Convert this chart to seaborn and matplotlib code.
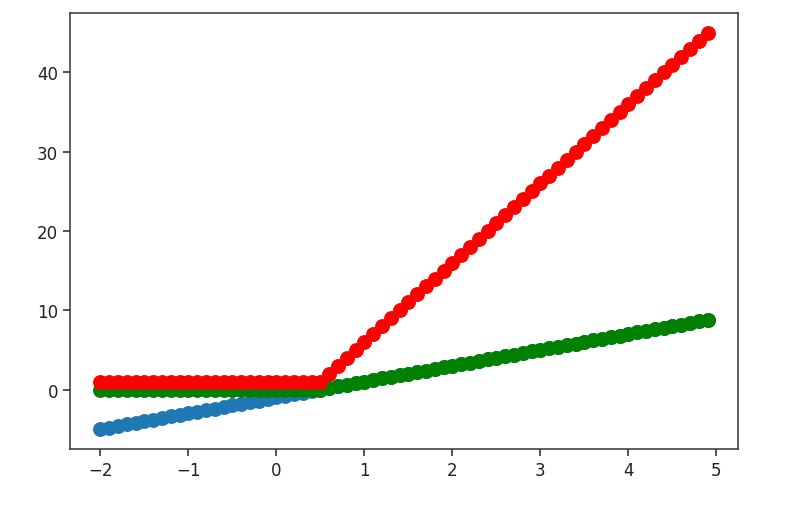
import matplotlib
matplotlib.use("Agg")
import matplotlib.pyplot as plt
import seaborn as sns

# values
x = [-2.0, -1.9, -1.8, -1.7, -1.6, -1.5, -1.4, -1.3, -1.2, -1.1,
     -1.0, -0.9, -0.8, -0.7, -0.6, -0.5, -0.4, -0.3, -0.2, -0.1,
     0.0, 0.1, 0.2, 0.3, 0.4, 0.5, 0.6, 0.7, 0.8, 0.9,
     1.0, 1.1, 1.2, 1.3, 1.4, 1.5, 1.6, 1.7, 1.8, 1.9,
     2.0, 2.1, 2.2, 2.3, 2.4, 2.5, 2.6, 2.7, 2.8, 2.9,
     3.0, 3.1, 3.2, 3.3, 3.4, 3.5, 3.6, 3.7, 3.8, 3.9,
     4.0, 4.1, 4.2, 4.3, 4.4, 4.5, 4.6, 4.7, 4.8, 4.9]

linear = [-5.0, -4.8, -4.6, -4.4, -4.2, -4.0, -3.8, -3.6, -3.4, -3.2,
          -3.0, -2.8, -2.6, -2.4, -2.2, -2.0, -1.8, -1.6, -1.4, -1.2,
          -1.0, -0.8, -0.6, -0.4, -0.2, 0.0, 0.2, 0.4, 0.6, 0.8,
          1.0, 1.2, 1.4, 1.6, 1.8, 2.0, 2.2, 2.4, 2.6, 2.8,
          3.0, 3.2, 3.4, 3.6, 3.8, 4.0, 4.2, 4.4, 4.6, 4.8,
          5.0, 5.2, 5.4, 5.6, 5.8, 6.0, 6.2, 6.4, 6.6, 6.8,
          7.0, 7.2, 7.4, 7.6, 7.8, 8.0, 8.2, 8.4, 8.6, 8.8]

relu = [0.0, 0.0, 0.0, 0.0, 0.0, 0.0, 0.0, 0.0, 0.0, 0.0,
        0.0, 0.0, 0.0, 0.0, 0.0, 0.0, 0.0, 0.0, 0.0, 0.0,
        0.0, 0.0, 0.0, 0.0, 0.0, 0.0, 0.2, 0.4, 0.6, 0.8,
        1.0, 1.2, 1.4, 1.6, 1.8, 2.0, 2.2, 2.4, 2.6, 2.8,
        3.0, 3.2, 3.4, 3.6, 3.8, 4.0, 4.2, 4.4, 4.6, 4.8,
        5.0, 5.2, 5.4, 5.6, 5.8, 6.0, 6.2, 6.4, 6.6, 6.8,
        7.0, 7.2, 7.4, 7.6, 7.8, 8.0, 8.2, 8.4, 8.6, 8.8]

steep = [1, 1, 1, 1, 1, 1, 1, 1, 1, 1,
         1, 1, 1, 1, 1, 1, 1, 1, 1, 1,
         1, 1, 1, 1, 1, 1, 2, 3, 4, 5,
         6, 7, 8, 9, 10, 11, 12, 13, 14, 15,
         16, 17, 18, 19, 20, 21, 22, 23, 24, 25,
         26, 27, 28, 29, 30, 31, 32, 33, 34, 35,
         36, 37, 38, 39, 40, 41, 42, 43, 44, 45]

plt.rcParams['font.size'] = 12

fig = plt.figure(figsize=(8.08, 5.06), dpi=100)
ax = fig.add_axes([70 / 808, 1 - 450 / 506, 668 / 808, 436 / 506])

dot = 115
sns.scatterplot(x=x, y=linear, color='#1f77b4', s=dot, linewidth=0, ax=ax)
sns.scatterplot(x=x, y=relu, color='green', s=dot, linewidth=0, ax=ax)
sns.scatterplot(x=x, y=steep, color='red', s=dot, linewidth=0, ax=ax)

ax.tick_params(length=5, width=1.1, colors='#222222', labelcolor='#222222')
for sp in ax.spines.values():
    sp.set_color('#333333')
    sp.set_linewidth(1.1)

fig.savefig('out.png', dpi=100)
